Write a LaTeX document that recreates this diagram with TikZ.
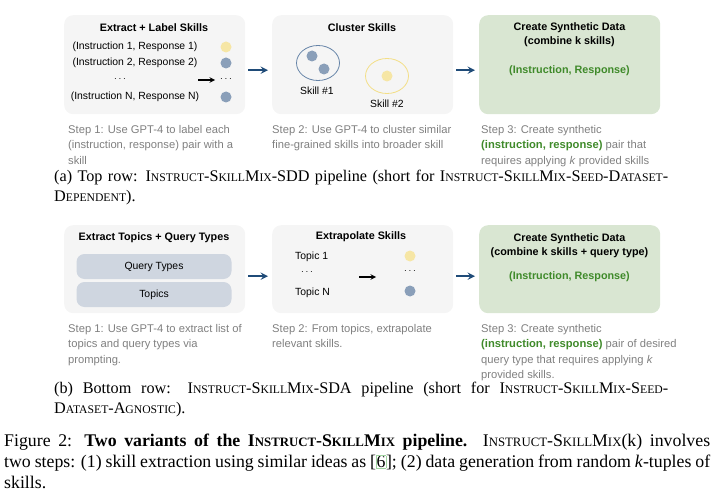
\documentclass[tikz,border=0pt]{standalone}
\usepackage{fontspec}
\setmainfont{Liberation Serif}
\newfontfamily\diagfont{Liberation Sans}
\usetikzlibrary{positioning,arrows.meta,shapes.geometric}
\tikzset{>=stealth}

\definecolor{panelgray}{HTML}{F5F5F5}
\definecolor{panelgreen}{HTML}{D9E6D2}
\definecolor{pillblue}{HTML}{CFD6E0}
\definecolor{dotblue}{HTML}{8A9FB9}
\definecolor{dotyellow}{HTML}{F6E6A5}
\definecolor{ringblue}{HTML}{6684A8}
\definecolor{ringyellow}{HTML}{F3DE86}
\definecolor{flowblue}{HTML}{1F4B78}
\definecolor{stepgray}{HTML}{808080}
\definecolor{greentxt}{HTML}{3F8A2A}
\definecolor{linkgreen}{HTML}{9FD49F}

\makeatletter
\newcommand\capsc[1]{{\fontsize{\fpeval{0.72*\f@size}}{\f@baselineskip}\selectfont #1}}
\makeatother
\newcommand\ismix{I\capsc{NSTRUCT}-S\capsc{KILL}M\capsc{IX}}

\tikzset{
  panel/.style={rounded corners=9pt,fill=panelgray,anchor=north west,
    minimum width=181pt,minimum height=99pt,inner sep=0pt},
  greenpanel/.style={panel,fill=panelgreen},
  txt/.style={font=\diagfont\fontsize{10.4}{14}\selectfont,inner sep=0pt},
  ttl/.style={txt,font=\diagfont\bfseries\fontsize{10.8}{14.5}\selectfont,align=center},
  steptxt/.style={txt,text=stepgray,anchor=north west,align=left,
    font=\diagfont\fontsize{11.2}{15.5}\selectfont},
  dot/.style={circle,inner sep=0pt,minimum size=11pt},
  ring/.style={ellipse,draw,line width=.8pt,inner sep=0pt,
    minimum width=43pt,minimum height=35pt},
  pill/.style={rounded corners=8pt,fill=pillblue,minimum width=155pt,
    minimum height=25pt,txt},
  flow/.style={->,flowblue,line width=2.2pt,shorten <=3pt,shorten >=4pt},
  pick/.style={->,black,line width=1.4pt},
  capnote/.style={anchor=north west,inner sep=0pt,align=justify,
    font=\fontsize{16.2}{20}\selectfont},
  figcap/.style={capnote,font=\fontsize{17.8}{21}\selectfont}
}

\begin{document}
\begin{tikzpicture}[x=1pt,y=-1pt]
\useasboundingbox (0,0) rectangle (720,492);

% top row
\node[panel] (lab) at (64,15) {};
\node[panel] (clu) at (272,15) {};
\node[greenpanel] (syn) at (479,15) {};
\draw[flow] ([yshift=-5.5pt]lab.east) -- ([yshift=-5.5pt]clu.west);
\draw[flow] ([yshift=-5.5pt]clu.east) -- ([yshift=-5.5pt]syn.west);

\node[ttl] (labT) at (154,28) {Extract + Label Skills};
\node[txt] (row1) at (135,47) {(Instruction 1, Response 1)};
\node[txt] (row2) at (135,63) {(Instruction 2, Response 2)};
\node[txt] (rowd) at (120,79) {$\cdots$};
\node[txt] (rowN) at (135,97) {(Instruction N, Response N)};
\node[dot,fill=dotyellow] (sk1) at (226,47) {};
\node[dot,fill=dotblue] (sk2) at (226,63) {};
\node[txt] (skd) at (226,79) {$\cdots$};
\node[dot,fill=dotblue] (skN) at (226,97) {};
\coordinate (labA) at (198,80);
\coordinate (labB) at (215,80);
\draw[pick] (labA) -- (labB);

\node[ttl] (cluT) at (362,28) {Cluster Skills};
\node[ring,draw=ringblue] (grp1) at (318,63) {};
\node[dot,fill=dotblue] (g1a) at (312,56) {};
\node[dot,fill=dotblue] (g1b) at (324,69) {};
\node[txt] (grp1L) at (317,91) {Skill \#1};
\node[ring,draw=ringyellow] (grp2) at (387,76) {};
\node[dot,fill=dotyellow] (g2a) at (387,76) {};
\node[txt] (grp2L) at (387,104) {Skill \#2};

\node[ttl] (synT) at (569.5,34.5) {Create Synthetic Data\\(combine k skills)};
\node[ttl,text=greentxt] (synP) at (569.5,71) {(Instruction, Response)};

\node[steptxt] (labS) at (68,125) {Step 1: Use GPT-4 to label each\\
  (instruction, response) pair with a\\skill};
\node[steptxt] (cluS) at (272,125) {Step 2: Use GPT-4 to cluster similar\\
  fine-grained skills into broader skill};
\node[steptxt] (synS) at (481,125) {Step 3: Create synthetic\\
  \textbf{\textcolor{greentxt}{(instruction, response)}} pair that\\
  requires applying \textit{k} provided skills};

\node[capnote,text width=614pt] (capA) at (54,170) {(a) Top row: \ismix-SDD
  pipeline (short for \ismix-S\capsc{EED}-D\capsc{ATASET}-\linebreak
  D\capsc{EPENDENT}).};

% bottom row
\node[panel,minimum height=88pt] (topx) at (64,225) {};
\node[panel,minimum height=88pt] (xtra) at (272,225) {};
\node[greenpanel,minimum height=88pt] (syn2) at (479,225) {};
\draw[flow] ([yshift=-7pt]topx.east) -- ([yshift=-7pt]xtra.west);
\draw[flow] ([yshift=-7pt]xtra.east) -- ([yshift=-7pt]syn2.west);

\node[ttl] (topxT) at (154,238) {Extract Topics + Query Types};
\node[pill] (qtype) at (154,266.5) {Query Types};
\node[pill] (topic) at (154,294.5) {Topics};

\node[ttl] (xtraT) at (361,237) {Extrapolate Skills};
\node[txt,anchor=west] (tp1) at (295,257) {Topic 1};
\node[txt] (tpd) at (307,272) {$\cdots$};
\node[txt,anchor=west] (tpN) at (295,293) {Topic N};
\coordinate (xtraA) at (359,277);
\coordinate (xtraB) at (376,277);
\draw[pick] (xtraA) -- (xtraB);
\node[dot,fill=dotyellow] (xs1) at (410,256) {};
\node[txt] (xsd) at (410,271) {$\cdots$};
\node[dot,fill=dotblue] (xsN) at (410,291) {};

\node[ttl] (syn2T) at (569.5,245.5) {Create Synthetic Data\\(combine k skills + query type)};
\node[ttl,text=greentxt] (syn2P) at (569.5,277) {(Instruction, Response)};

\node[steptxt] (topxS) at (68,324) {Step 1: Use GPT-4 to extract list of\\
  topics and query types via\\prompting.};
\node[steptxt] (xtraS) at (272,324) {Step 2: From topics, extrapolate\\
  relevant skills.};
\node[steptxt] (syn2S) at (481,324) {Step 3: Create synthetic\\
  \textbf{\textcolor{greentxt}{(instruction, response)}} pair of desired\\
  query type that requires applying \textit{k}\\provided skills.};

\node[capnote,text width=614pt] (capB) at (54,382) {(b) Bottom row: \ismix-SDA
  pipeline (short for \ismix-S\capsc{EED}-\linebreak
  D\capsc{ATASET}-A\capsc{GNOSTIC}).};

% figure caption
\node[figcap,text width=706pt] (capF) at (4,434) {Figure 2: \textbf{Two variants
  of the \ismix{} pipeline.} \ismix(k) involves\linebreak two steps: (1) skill
  extraction using similar ideas as [{\fboxsep=0pt\fboxrule=.5pt%
  \fcolorbox{linkgreen}{white}{6}}]; (2) data generation from random
  \textit{k}-tuples of\linebreak skills.};
\end{tikzpicture}
\end{document}
